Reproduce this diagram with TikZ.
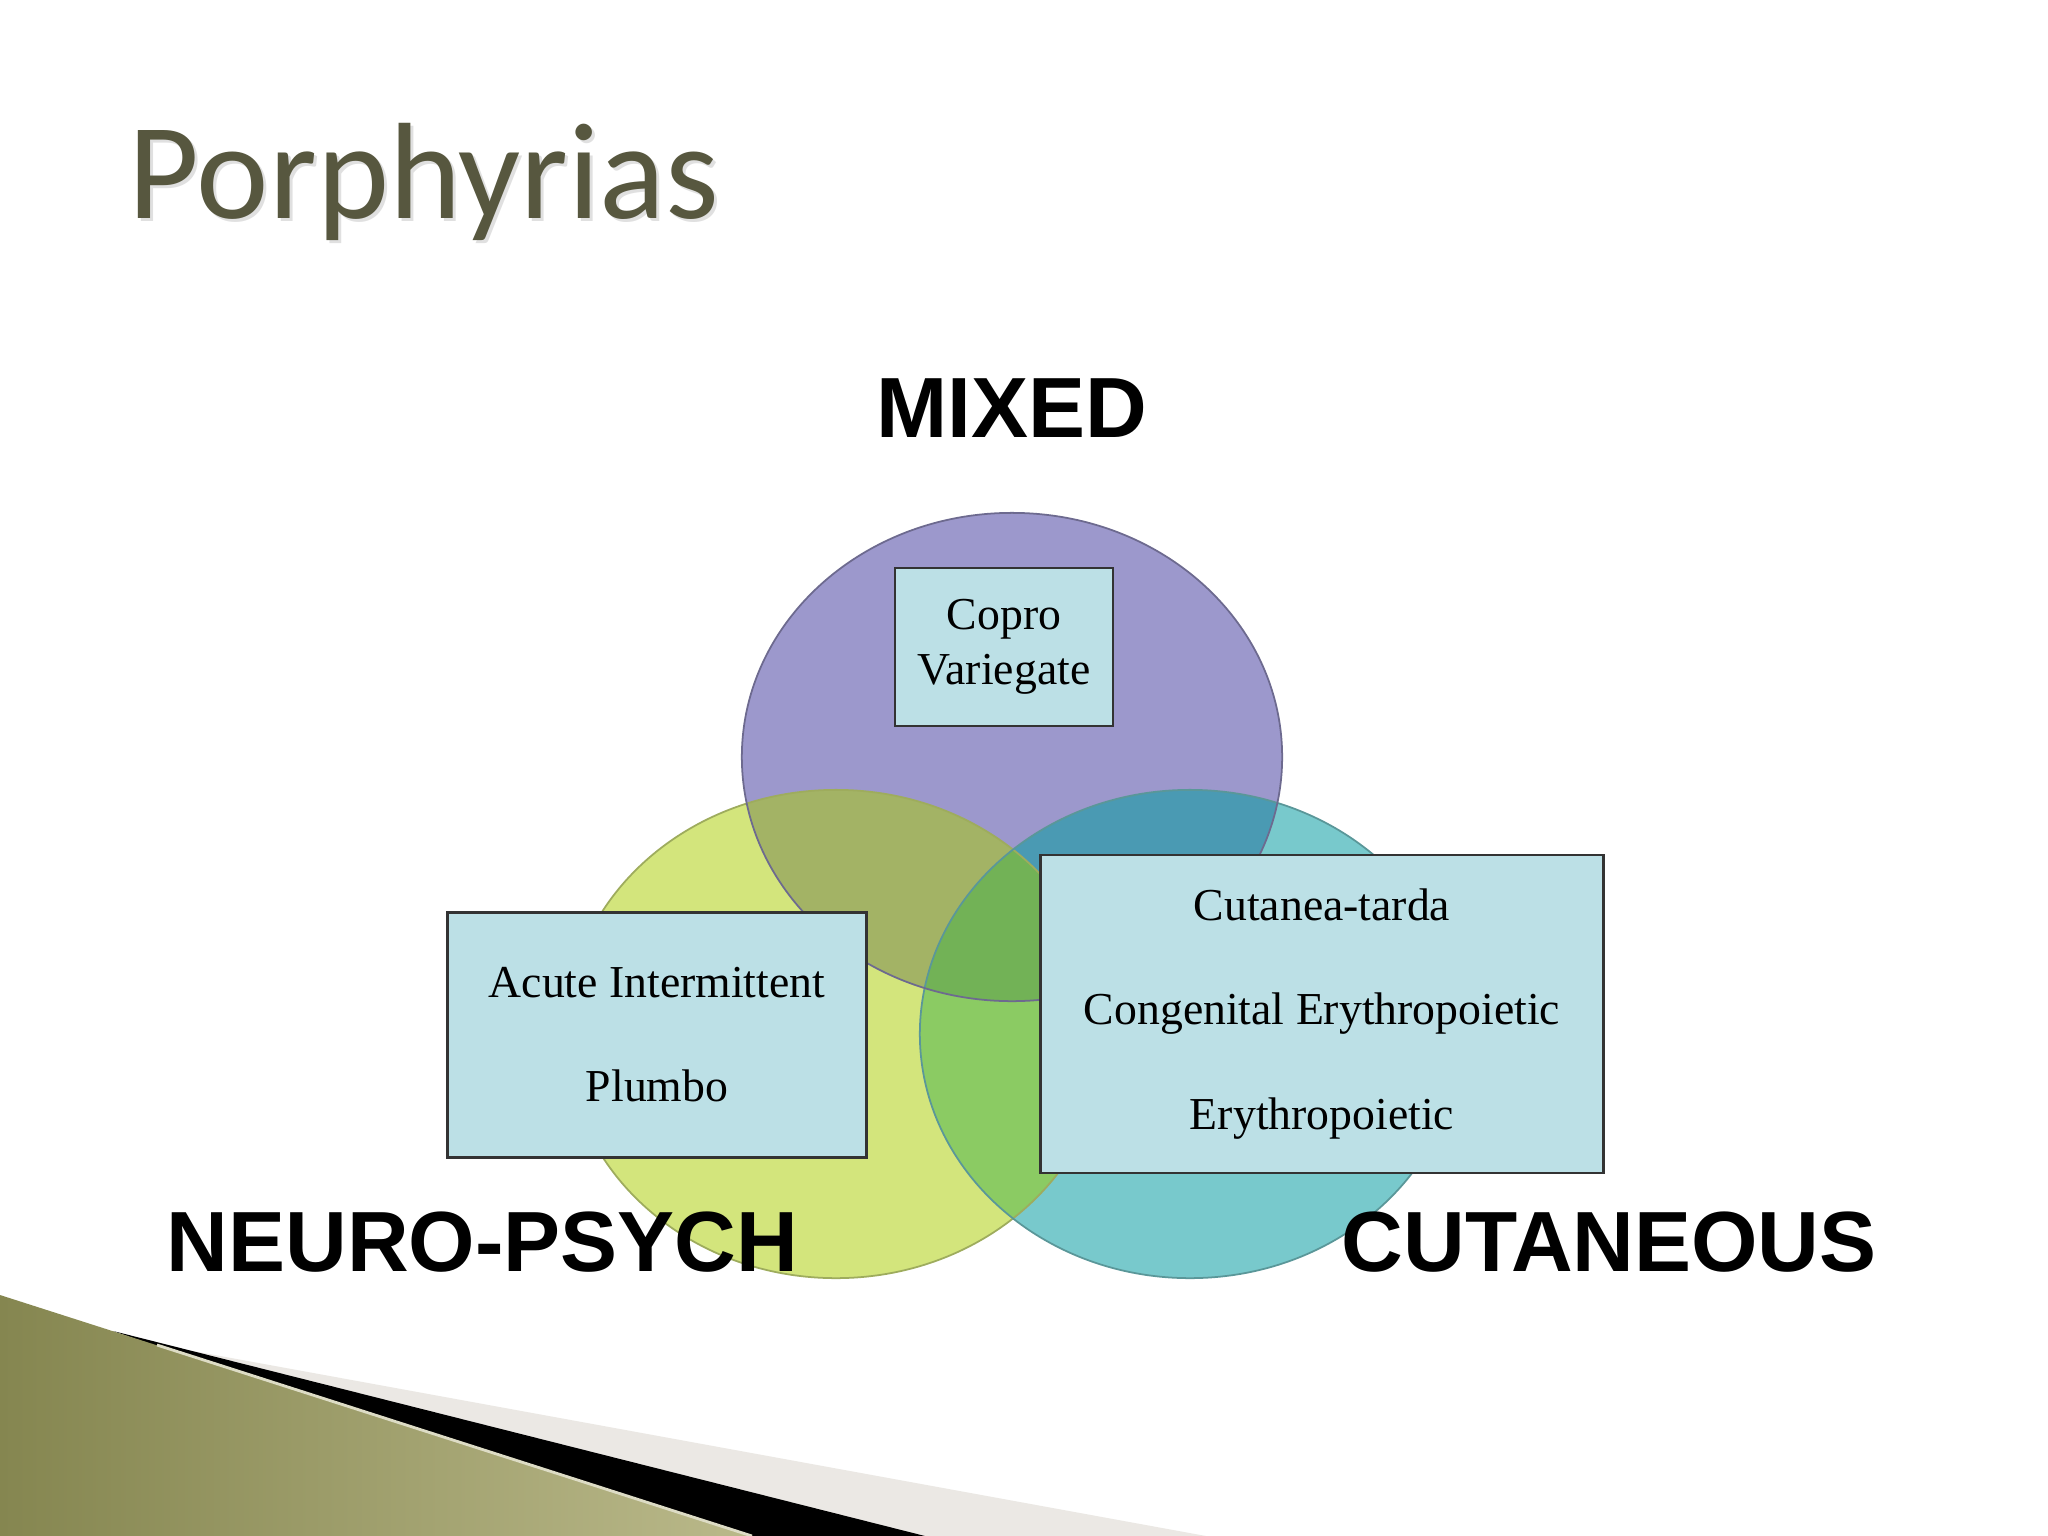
\documentclass[tikz,border=0pt]{standalone}
\usepackage{fontspec}
\setmainfont{Liberation Serif}
\newfontfamily\titlefont{Carlito}
\newfontfamily\headfont{Liberation Sans}
\usepackage{tikz}
\usetikzlibrary{positioning}
\definecolor{mixcol}{HTML}{9C98CC}
\definecolor{neurocol}{HTML}{D3E57C}
\definecolor{cutcol}{HTML}{78C9CC}
\definecolor{mixneuro}{HTML}{A3B365}
\definecolor{mixcut}{HTML}{4A9AB3}
\definecolor{neurocut}{HTML}{8BCB63}
\definecolor{allthree}{HTML}{72B256}
\definecolor{boxcol}{HTML}{BCE0E6}
\definecolor{titlecol}{HTML}{57573F}
\definecolor{olivedark}{HTML}{858650}
\definecolor{olivelight}{HTML}{BAB98A}
\definecolor{bandcol}{HTML}{EBE8E4}

\begin{document}
\begin{tikzpicture}
[x=0.01cm,y=-0.01cm,
 disc/.style={x radius=2.7cm,y radius=2.44cm},
 rim/.style={line width=0.5pt},
 typebox/.style={draw=black!80,line width=0.7pt,fill=boxcol,align=center,inner sep=0pt,font=\fontsize{13pt}{15.6pt}\selectfont},
 group/.style={inner sep=0pt,font=\headfont\bfseries\fontsize{24.3pt}{28pt}\selectfont}]
\fill[white] (0,0) rectangle (2048,1536);
\useasboundingbox (0,0) rectangle (2048,1536);

\fill[bandcol] (160,1345) -- (1206,1536) -- (700,1536) -- cycle;
\fill[black] (113,1331) -- (925,1536) -- (700,1536) -- cycle;
\shade[left color=olivedark,right color=olivelight] (0,1295) -- (752,1536) -- (0,1536) -- cycle;
\draw[olivelight!50!white,line width=0.8pt] (157,1345) -- (752,1536);

\node[anchor=base west,inner sep=0pt,text=black!12] (shadow) at (131,221) {\titlefont\fontsize{39pt}{44pt}\selectfont Porphyrias};
\node[anchor=base west,inner sep=0pt,text=titlecol,font=\titlefont\fontsize{39pt}{44pt}\selectfont] (title) at (128,218) {Porphyrias};

\coordinate (cmix) at (1012,757);
\coordinate (cneuro) at (836,1034);
\coordinate (ccut) at (1190,1034);

\fill[neurocol] (cneuro) ellipse [disc];
\fill[cutcol] (ccut) ellipse [disc];
\fill[mixcol] (cmix) ellipse [disc];
\begin{scope}
\clip (cneuro) ellipse [disc];
\fill[neurocut] (ccut) ellipse [disc];
\end{scope}
\begin{scope}
\clip (cmix) ellipse [disc];
\fill[mixneuro] (cneuro) ellipse [disc];
\fill[mixcut] (ccut) ellipse [disc];
\clip (cneuro) ellipse [disc];
\fill[allthree] (ccut) ellipse [disc];
\end{scope}
\draw[rim,neurocol!75!black] (cneuro) ellipse [disc];
\draw[rim,cutcol!75!black] (ccut) ellipse [disc];
\draw[rim,mixcol!70!black] (cmix) ellipse [disc];

\node[typebox,minimum width=2.18cm,minimum height=1.58cm] (copro) at (1004,647) {Copro\\Variegate};
\node[typebox,minimum width=4.19cm,minimum height=2.45cm] (acute) at (657,1035) {Acute Intermittent\\[14pt]Plumbo};
\node[typebox,minimum width=5.63cm,minimum height=3.18cm] (cutanea) at (1322,1014) {Cutanea-tarda\\[14pt]Congenital Erythropoietic\\[14pt]Erythropoietic};

\node[group,anchor=base] (mixed) at (1012,437) {MIXED};
\node[group,anchor=base west] (neuro) at (166,1271) {NEURO-PSYCH};
\node[group,anchor=base west] (cutan) at (1341,1271) {CUTANEOUS};
\end{tikzpicture}
\end{document}
